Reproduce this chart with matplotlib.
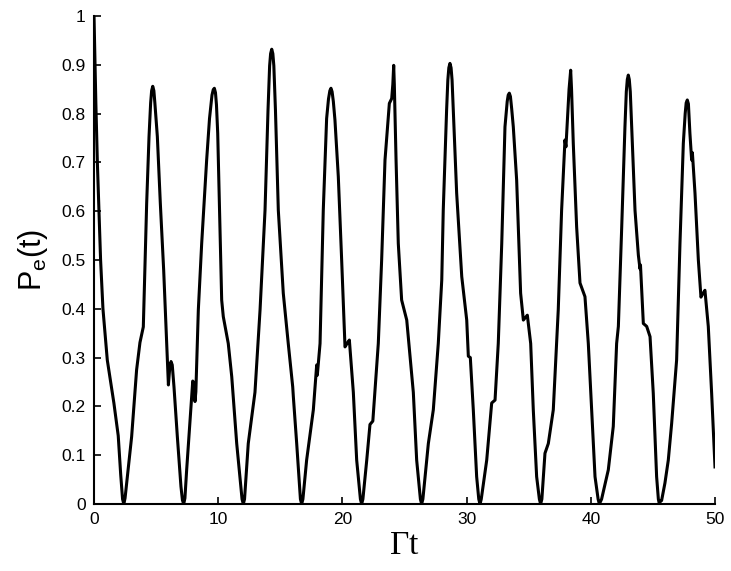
import matplotlib
matplotlib.use('Agg')
import matplotlib.pyplot as plt

# Valori: tempo adimensionale (Gamma t) e popolazione eccitata
gamma_t = [
    0.0, 0.06, 0.15, 0.27, 0.40, 0.53, 0.72, 1.07, 1.6, 1.95, 2.15, 2.3, 2.4,
    2.5, 3.03, 3.43, 3.70, 3.97, 4.24, 4.43, 4.56, 4.64, 4.73, 4.82, 4.90, 5.10, 5.34, 5.61, 5.85,
    5.99, 6.1, 6.2, 6.3, 6.44, 6.71, 7.0, 7.12, 7.22, 7.32,
    7.46, 7.73, 7.95, 8.0, 8.13, 8.2, 8.40, 8.67, 9.07, 9.30, 9.50, 9.60, 9.69, 9.78, 9.86,
    9.96, 10.09, 10.23, 10.28, 10.41, 10.81, 11.09, 11.49, 11.92, 12.02, 12.12,
    12.42, 12.96, 13.37, 13.77, 14.01, 14.14, 14.22, 14.31, 14.40, 14.48, 14.61, 14.84, 15.24, 15.64,
    16.0, 16.05, 16.32, 16.62, 16.72, 16.82,
    17.12, 17.66, 17.93, 17.98, 18.2, 18.46, 18.73, 18.88, 18.99, 19.08, 19.17, 19.27, 19.40, 19.67,
    19.94, 20.21, 20.4, 20.56, 20.88, 21.15, 21.45, 21.55, 21.65,
    21.96, 22.22, 22.45, 22.89, 23.16, 23.43, 23.78, 23.97, 24.06, 24.13, 24.18, 24.32, 24.50,
    24.77, 25.18, 25.71, 25.98, 26.28, 26.38, 26.48,
    26.92, 27.32, 27.72, 28.0, 28.12, 28.39, 28.49, 28.57, 28.66, 28.75, 28.83, 28.93, 29.20,
    29.61, 30.01, 30.14, 30.3, 30.54, 30.81, 30.98, 31.08, 31.18,
    31.62, 32.02, 32.29, 32.55, 32.83, 33.09, 33.27, 33.35, 33.44, 33.53, 33.63, 33.76, 34.03,
    34.16, 34.35, 34.57, 34.89, 35.16, 35.37, 35.64, 35.86, 35.96, 36.06,
    36.31, 36.58, 36.98, 37.38, 37.65, 37.92, 38.0, 38.25, 38.38, 38.45, 38.59, 38.86, 39.13,
    39.53, 39.80, 40.07, 40.34, 40.59, 40.69, 40.87,
    41.41, 41.81, 42.08, 42.22, 42.49, 42.75, 42.86, 42.94, 43.02, 43.10, 43.18, 43.29, 43.56,
    43.83, 43.96, 44.0, 44.23, 44.50, 44.77, 45.03, 45.30, 45.44, 45.52, 45.62,
    45.70, 45.97, 46.24, 46.51, 46.91, 47.18, 47.45, 47.60, 47.68, 47.77, 47.86, 47.98, 48.08,
    48.12, 48.18, 48.39, 48.66, 48.87, 49.0, 49.19, 49.46, 49.73, 50.0,
]
p_e = [
    1.0, 0.93, 0.82, 0.70, 0.60, 0.50, 0.40, 0.295, 0.207, 0.14, 0.06, 0.01, 0.0,
    0.012, 0.138, 0.275, 0.331, 0.363, 0.616, 0.753, 0.822, 0.847, 0.856, 0.847, 0.822, 0.753, 0.616, 0.479, 0.33,
    0.244, 0.28, 0.292, 0.285, 0.240, 0.138, 0.036, 0.008, 0.0, 0.012,
    0.07, 0.172, 0.252, 0.25, 0.21, 0.23, 0.398, 0.534, 0.705, 0.79, 0.838, 0.849, 0.852, 0.843, 0.818,
    0.76, 0.62, 0.466, 0.418, 0.384, 0.329, 0.261, 0.124, 0.01, 0.0, 0.01,
    0.124, 0.229, 0.398, 0.602, 0.807, 0.898, 0.923, 0.932, 0.923, 0.898, 0.807, 0.602, 0.432, 0.329,
    0.24, 0.22, 0.124, 0.01, 0.0, 0.01,
    0.09, 0.193, 0.285, 0.264, 0.329, 0.602, 0.79, 0.83, 0.847, 0.852, 0.845, 0.825, 0.787, 0.671,
    0.5, 0.322, 0.33, 0.336, 0.229, 0.09, 0.01, 0.0, 0.01,
    0.09, 0.163, 0.17, 0.329, 0.5, 0.705, 0.821, 0.831, 0.86, 0.899, 0.86, 0.705, 0.534,
    0.418, 0.377, 0.229, 0.09, 0.01, 0.0, 0.01,
    0.124, 0.193, 0.329, 0.459, 0.602, 0.807, 0.869, 0.894, 0.903, 0.894, 0.869, 0.807, 0.637,
    0.466, 0.377, 0.303, 0.30, 0.193, 0.056, 0.01, 0.0, 0.01,
    0.09, 0.207, 0.213, 0.329, 0.534, 0.773, 0.825, 0.838, 0.842, 0.835, 0.81, 0.773, 0.664,
    0.568, 0.432, 0.377, 0.387, 0.329, 0.193, 0.056, 0.01, 0.0, 0.01,
    0.104, 0.124, 0.193, 0.398, 0.602, 0.746, 0.732, 0.85, 0.889, 0.85, 0.739, 0.568, 0.453,
    0.425, 0.329, 0.193, 0.056, 0.01, 0.0, 0.01,
    0.07, 0.159, 0.329, 0.364, 0.568, 0.773, 0.845, 0.870, 0.879, 0.870, 0.845, 0.773, 0.602,
    0.51, 0.482, 0.49, 0.37, 0.364, 0.343, 0.227, 0.056, 0.01, 0.0, 0.007,
    0.007, 0.043, 0.09, 0.165, 0.295, 0.534, 0.739, 0.80, 0.822, 0.828, 0.82, 0.76, 0.72,
    0.705, 0.72, 0.637, 0.5, 0.424, 0.43, 0.438, 0.364, 0.227, 0.076,
]

x_ticks = [0, 10, 20, 30, 40, 50]
y_ticks = [0, 0.1, 0.2, 0.3, 0.4, 0.5, 0.6, 0.7, 0.8, 0.9, 1]
y_tick_labels = ['0', '0.1', '0.2', '0.3', '0.4', '0.5', '0.6', '0.7', '0.8', '0.9', '1']

plt.rcParams['font.family'] = ['Liberation Sans', 'DejaVu Sans']
plt.rcParams['mathtext.default'] = 'regular'

fig = plt.figure(figsize=(7.31, 5.71), dpi=100)
ax = fig.add_axes([0.1286, 0.1173, 0.8495, 0.8546])

# Curva principale
ax.plot(gamma_t, p_e, color='black', linewidth=2.2)

# Assi stile MATLAB (box off)
ax.set_xlim(0, 50)
ax.set_ylim(0, 1)
ax.set_xticks(x_ticks)
ax.set_yticks(y_ticks)
ax.set_yticklabels(y_tick_labels)
ax.tick_params(direction='in', length=5, width=1.2, labelsize=12.5, pad=6)
ax.spines['top'].set_visible(False)
ax.spines['right'].set_visible(False)
ax.spines['left'].set_linewidth(1.5)
ax.spines['bottom'].set_linewidth(1.5)

ax.set_xlabel(r'$\Gamma$t', fontsize=24, family='Liberation Serif', labelpad=2)
ax.set_ylabel(r'P$_e$(t)', fontsize=22, labelpad=8)

plt.savefig('out.png', dpi=100)
plt.close()
